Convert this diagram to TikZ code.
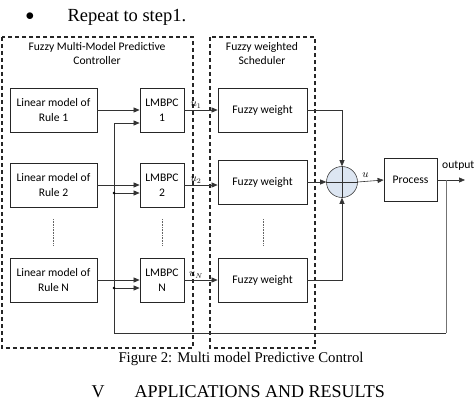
\documentclass[tikz,border=0pt]{standalone}
\usepackage{fontspec}
\setmainfont{Liberation Serif}
\newfontfamily\calfont{Carlito}
\usetikzlibrary{arrows.meta}
\begin{document}
\begin{tikzpicture}[x=1pt,y=-1pt,
  blk/.style={draw=black!85,line width=0.8pt,minimum width=87pt,minimum height=44pt,inner sep=0pt,align=center,font=\calfont\fontsize{11.6}{15}\selectfont},
  lmb/.style={draw=black!85,line width=0.8pt,minimum width=44pt,minimum height=44pt,inner sep=0pt,align=center,font=\calfont\fontsize{11.6}{15}\selectfont},
  grp/.style={draw=black!85,line width=1.1pt,dash pattern=on 4pt off 3pt},
  ar/.style={-{Triangle[length=6pt,width=5pt]},draw=black!80,line width=0.6pt},
  ln/.style={draw=black!80,line width=0.6pt},
  dots/.style={draw=black!60,line width=0.6pt,dash pattern=on 1pt off 0.6pt},
  ulab/.style={font=\fontsize{10.5}{11}\selectfont,inner sep=0pt},
  ttl/.style={font=\calfont\fontsize{11.6}{14}\selectfont,align=center}]
\useasboundingbox[fill=white] (0,0) rectangle (474,404);
% top text
\node[font=\fontsize{18}{20}\selectfont,anchor=west] (bul) at (22,17) {$\bullet$};
\node[font=\fontsize{18.5}{20}\selectfont,anchor=west] (rep) at (64,17) {Repeat to step1.};
% group boxes
\draw[grp] (2,37) rectangle (193,348);
\draw[grp] (210,37) rectangle (315,348);
\node[ttl] (t1) at (97,54) {Fuzzy Multi-Model Predictive\\Controller};
\node[ttl] (t2) at (262,54) {Fuzzy weighted\\Scheduler};
% blocks
\node[blk] (m1) at (53.5,110) {Linear model of\\Rule 1};
\node[blk] (m2) at (53.5,185) {Linear model of\\Rule 2};
\node[blk] (mN) at (53.5,280) {Linear model of\\Rule N};
\node[lmb] (c1) at (162,110) {LMBPC\\1};
\node[lmb] (c2) at (162,185) {LMBPC\\2};
\node[lmb] (cN) at (162,280) {LMBPC\\N};
\node[blk,minimum width=89pt] (f1) at (262.5,110) {Fuzzy weight};
\node[blk,minimum width=89pt] (f2) at (262.5,182) {Fuzzy weight};
\node[blk,minimum width=89pt] (fN) at (262.5,280) {Fuzzy weight};
\node[circle,draw=black!75,line width=0.6pt,fill={rgb,255:red,221;green,230;blue,242},minimum size=31pt,inner sep=0pt] (s) at (342,182) {};
\draw[ln] (s.north) -- (s.south) (s.west) -- (s.east);
\node[blk,minimum width=53pt,minimum height=43pt] (p) at (410.5,180) {Process};
% dotted continuation marks
\draw[dots] (53,219) -- (53,245);
\draw[dots] (162,219) -- (162,245);
\draw[dots] (263,219) -- (263,245);
% model to controller
\draw[ar] (m1.east) -- (c1.west);
\draw[ar] (m2.east) -- (c2.west);
\draw[ar] (mN.east) -- (cN.west);
% controller to weight
\draw[ar] (c1.east) -- node[ulab,pos=0.35,above=1.5pt] {$u_1$} (f1.west);
\draw[ar] (c2.east) -- node[ulab,pos=0.35,above=1.5pt] {$u_2$} (f2.west |- c2.east);
\draw[ar] (cN.east) -- node[ulab,pos=0.35,above=1.5pt] {$u_N$} (fN.west);
% weight to sum
\draw[ar] (f1.east) -| (s.north);
\draw[ar] (f2.east) -- (s.west);
\draw[ar] (fN.east) -| (s.south);
\draw[ar] (s.east) -- node[ulab,pos=0.3,above=4pt] {$u$} (p.west);
\coordinate (o) at (465,180);
\draw[ar] (p.east) -- (o);
\node[font=\calfont\fontsize{11.6}{12}\selectfont,anchor=west,inner sep=0pt] (olab) at (442,166) {output};
% feedback
\coordinate (fb) at (446,180);
\coordinate (fbb) at (446,333);
\coordinate (fbl) at (114,333);
\coordinate (j1) at (114,123);
\coordinate (j2) at (114,193);
\coordinate (jN) at (114,288);
\draw[ln,draw=black!55] (fb) -- (fbb);
\draw[ln] (fbb) -- (fbl) -- (j1);
\draw[ar] (j1) -- (c1.west |- j1);
\draw[ar] (j2) -- (c2.west |- j2);
\draw[ar] (jN) -- (cN.west |- jN);
\fill[black] (j2) circle (1.3pt) (jN) circle (1.3pt);
% caption
\node[font=\fontsize{14.8}{16}\selectfont] (cap) at (241,359) {Figure 2: Multi model Predictive Control};
\node[font=\fontsize{18}{20}\selectfont,anchor=west] (h1) at (88,392) {V};
\node[font=\fontsize{18}{20}\selectfont,anchor=west] (h2) at (131,392) {APPLICATIONS AND RESULTS};
\end{tikzpicture}
\end{document}
